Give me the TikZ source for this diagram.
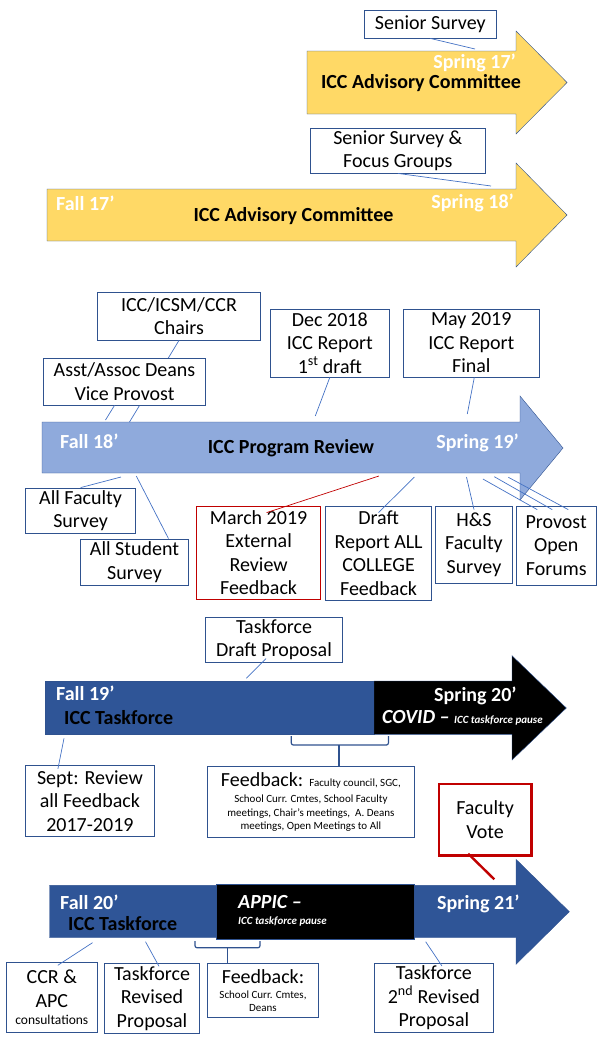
\documentclass[tikz,border=0pt]{standalone}
\usepackage{fontspec}
\setmainfont{Carlito}
\usepackage{tikz}
\usepackage{xcolor}

\definecolor{gold}{HTML}{FFD966}
\definecolor{skyblue}{HTML}{8FAADC}
\definecolor{navy}{HTML}{2F5597}
\definecolor{boxline}{HTML}{2F528F}
\definecolor{linkblue}{HTML}{4472C4}
\definecolor{darkred}{HTML}{C00000}
\newcommand{\fbsmall}{\fontsize{11}{13.5}\selectfont}

\begin{document}
\begin{tikzpicture}[x=1pt, y=-1pt,
    box/.style = {draw=boxline, fill=white, line width=0.8pt, align=center,
      inner sep=0pt, font=\fontsize{20}{23.5}\selectfont},
    link/.style = {draw=linkblue, line width=0.7pt},
    fbrace/.style = {draw=boxline, line width=1.2pt, rounded corners=2pt},
    season/.style = {text=white, inner sep=0pt, font=\bfseries\fontsize{20}{24}\selectfont},
    arrowtitle/.style = {inner sep=0pt, font=\bfseries\fontsize{20}{24}\selectfont},
    pause/.style = {text=white, inner sep=0pt, font=\bfseries\itshape\fontsize{20}{24}\selectfont}]
  \useasboundingbox (0,0) rectangle (597,1042);

  % timeline arrows
  \filldraw[fill=gold, draw=boxline] (307,51) -- (516,51) -- (516,31) -- (567,82.5)
    -- (516,134) -- (516,114) -- (307,114) -- cycle;
  \filldraw[fill=gold, draw=boxline] (47,189) -- (516,189) -- (516,163) -- (567,215)
    -- (516,267) -- (516,241) -- (47,241) -- cycle;
  \filldraw[fill=skyblue, draw=boxline] (42,422) -- (520,422) -- (520,396) -- (563,448)
    -- (520,500) -- (520,473) -- (42,473) -- cycle;
  \filldraw[fill=navy, draw=boxline] (45,681) rectangle (374,734.3);
  \filldraw[fill=black, draw=boxline] (374,681) -- (512,681) -- (512,655.7) -- (566.3,708)
    -- (512,760) -- (512,734.3) -- (374,734.3) -- cycle;
  \filldraw[fill=navy, draw=boxline] (49.5,885.3) -- (516,885.3) -- (516,859.3) -- (569.3,911.7)
    -- (516,964.3) -- (516,937.7) -- (49.5,937.7) -- cycle;
  \filldraw[fill=black, draw=boxline] (216,884.3) rectangle (414.3,938.7);

  % arrow texts
  \node[season, anchor=east] (sp17) at (516,63) {Spring 17’};
  \node[arrowtitle] (adv1) at (421,83) {ICC Advisory Committee};
  \node[season, anchor=west] (fa17) at (56,203) {Fall 17’};
  \node[season, anchor=east] (sp18) at (514,203) {Spring 18’};
  \node[arrowtitle] (adv2) at (293.5,216) {ICC Advisory Committee};
  \node[season, anchor=west] (fa18) at (60,441) {Fall 18’};
  \node[season, anchor=east] (sp19) at (519,443) {Spring 19’};
  \node[arrowtitle] (review) at (291,448) {ICC Program Review};
  \node[season, anchor=west] (fa19) at (56,693) {Fall 19’};
  \node[arrowtitle, anchor=west] (tf19) at (64,718) {ICC Taskforce};
  \node[season, anchor=west] (sp20) at (434,696) {Spring 20’};
  \node[pause, anchor=west] (covid) at (382,718) {COVID – {\fontsize{11}{12}\selectfont ICC taskforce pause}};
  \node[season, anchor=west] (fa20) at (60,902) {Fall 20’};
  \node[arrowtitle, anchor=west] (tf20) at (68,924) {ICC Taskforce};
  \node[pause, anchor=west] (appic) at (238,902) {APPIC –};
  \node[pause, anchor=west, font=\bfseries\itshape\fontsize{11}{12}\selectfont] (appicp) at (238,921) {ICC taskforce pause};
  \node[season, anchor=west] (sp21) at (437,904) {Spring 21’};

  % 2017 - 2018
  \node[box, minimum width=131.8, minimum height=28] (ss1) at (430.3,24) {Senior Survey};
  \coordinate (ss1end) at (475,49);
  \draw[link] (ss1.south) -- (ss1end);
  \node[box, minimum width=175.5, minimum height=45] (ss2) at (397.8,150.5) {Senior Survey \&\\Focus Groups};
  \coordinate (ss2end) at (491,186);
  \draw[link] (ss2.south) -- (ss2end);

  % program review
  \node[box, minimum width=163, minimum height=48] (chairs) at (179,316) {ICC/ICSM/CCR\\Chairs};
  \coordinate (chairsend) at (129.5,422);
  \draw[link] (chairs.south) -- (chairsend);
  \node[box, minimum width=162.2, minimum height=47] (deans) at (124.5,381.5) {Asst/Assoc Deans\\Vice Provost};
  \coordinate (deansend) at (105.5,420);
  \draw[link] ([xshift=-10]deans.south) -- (deansend);
  \node[box, minimum width=118.8, minimum height=68] (dec) at (329.8,343) {Dec 2018\\ICC Report\\1\textsuperscript{st} draft};
  \coordinate (decend) at (315.3,416);
  \draw[link] (dec.south) -- (decend);
  \node[box, minimum width=135.9, minimum height=68] (may) at (471.3,343) {May 2019\\ICC Report\\Final};
  \coordinate (mayend) at (467.3,414);
  \draw[link] ([xshift=3]may.south) -- (mayend);

  \node[box, minimum width=110.1, minimum height=45] (allfac) at (80.6,510.5) {All Faculty\\Survey};
  \coordinate (allfacend) at (121,477);
  \draw[link] (allfac.north) -- (allfacend);
  \node[box, minimum width=108.1, minimum height=46] (allstu) at (134.5,562) {All Student\\Survey};
  \coordinate (allstuend) at (136.3,476);
  \draw[link] ([xshift=34]allstu.north) -- (allstuend);
  \node[box, draw=darkred, minimum width=124.1, minimum height=93] (march) at (258.6,552.5) {March 2019\\External\\Review\\Feedback};
  \coordinate (marchend) at (378.9,476);
  \draw[link, draw=darkred] ([xshift=8,yshift=-7]march.north) -- (marchend);
  \node[box, minimum width=105.9, minimum height=94] (draft) at (378.6,553) {Draft\\Report ALL\\COLLEGE\\Feedback};
  \coordinate (draftend) at (414.3,477);
  \draw[link] ([yshift=-7]draft.north) -- (draftend);
  \node[box, minimum width=77.3, minimum height=77] (hs) at (474,544.5) {H\&S\\Faculty\\Survey};
  \coordinate (hsend) at (466.5,477);
  \draw[link] ([yshift=-4]hs.north) -- (hsend);
  \node[box, minimum width=79.6, minimum height=79] (provost) at (556.2,545.5) {Provost\\Open\\Forums};
  \coordinate (prov1) at (482.9,479);
  \coordinate (prov2) at (494.3,476.7);
  \coordinate (prov3) at (508.4,477.3);
  \draw[link] ([xshift=-19,yshift=-4]provost.north) -- (prov1);
  \draw[link] ([xshift=-4,yshift=-4]provost.north) -- (prov2);
  \draw[link] ([xshift=12,yshift=-4]provost.north) -- (prov3);

  % taskforce 2019 - 2020
  \node[box, minimum width=136.7, minimum height=45] (tdp) at (274,639.8) {Taskforce\\Draft Proposal};
  \coordinate (tdpend) at (246.4,678.3);
  \draw[link] ([xshift=-8,yshift=4]tdp.south) -- (tdpend);
  \node[box, minimum width=128.7, minimum height=71.4] (sept) at (89.9,801) {Sept: Review\\all Feedback\\2017-2019};
  \coordinate (septend) at (64,738.3);
  \draw[link] ([xshift=-32,yshift=-4]sept.north) -- (septend);
  \node[box, minimum width=206.8, minimum height=71.7] (fb1) at (310.9,801.9)
    {Feedback: {\fbsmall Faculty council, SGC,}\\[-7pt]
     {\fbsmall School Curr. Cmtes, School Faculty}\\[-10pt]
     {\fbsmall meetings, Chair’s meetings,\ \ A. Deans}\\[-10pt]
     {\fbsmall meetings, Open Meetings to All}};
  \coordinate (br1l) at (291.3,736);
  \coordinate (br1r) at (388.4,736);
  \coordinate (br1m) at (339,745);
  \draw[fbrace] (br1l) |- (br1m) -| (br1r);
  \draw[fbrace] (br1m) -- (br1m |- fb1.north);

  % taskforce 2020 - 2021
  \node[box, draw=darkred, line width=2.6pt, minimum width=92.2, minimum height=71.3] (vote) at (485.1,819.7) {Faculty\\Vote};
  \coordinate (voteend) at (494.3,879.3);
  \draw[draw=darkred, line width=2.4pt] ([xshift=-17,yshift=3]vote.south) -- (voteend);
  \node[box, minimum width=90.6, minimum height=69.6] (ccr) at (51.8,997.5)
    {CCR \&\\APC\\[-6pt]{\fontsize{13.5}{15}\selectfont consultations}};
  \coordinate (ccrend) at (92.5,942.7);
  \draw[link] ([xshift=6,yshift=-3]ccr.north) -- (ccrend);
  \node[box, minimum width=94.5, minimum height=69.6] (trp) at (152,998.5) {Taskforce\\Revised\\Proposal};
  \coordinate (trpend) at (145.5,941.7);
  \draw[link] ([xshift=7,yshift=-3]trp.north) -- (trpend);
  \node[box, minimum width=110.9, minimum height=54.4] (fb2) at (263,990.5)
    {Feedback:\\[-8pt]{\fbsmall School Curr. Cmtes,}\\[-10.5pt]{\fbsmall Deans}};
  \coordinate (br2l) at (195,941);
  \coordinate (br2r) at (260,941);
  \coordinate (br2m) at (227.3,947.7);
  \draw[fbrace] (br2l) |- (br2m) -| (br2r);
  \draw[fbrace] (br2m) -- (br2m |- fb2.north);
  \node[box, minimum width=119.2, minimum height=69] (t2rp) at (433.9,997.8) {Taskforce\\2\textsuperscript{nd} Revised\\Proposal};
  \coordinate (t2rpend) at (425.7,941.7);
  \draw[link] ([xshift=8,yshift=-3]t2rp.north) -- (t2rpend);
\end{tikzpicture}
\end{document}
